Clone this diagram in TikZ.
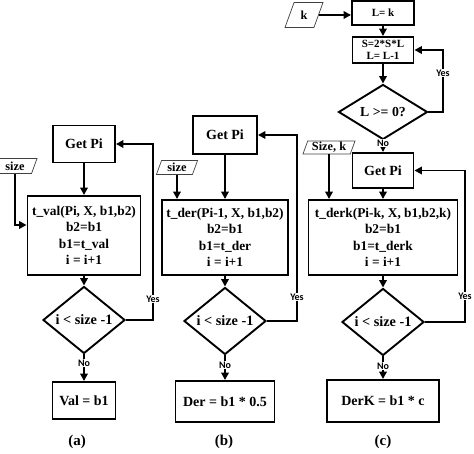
\documentclass[tikz,border=0pt]{standalone}
\usepackage{fontspec}
\setmainfont{Liberation Serif}
\newfontfamily\lblfont{Carlito}
\usetikzlibrary{shapes.geometric,arrows.meta}
\begin{document}
\begin{tikzpicture}[x=1pt,y=-1pt,
 box/.style={draw,line width=1.9pt,inner sep=0pt,align=center,font=\fontsize{14}{16}\selectfont\bfseries},
 mainbox/.style={box,font=\fontsize{13.4}{16.3}\selectfont\bfseries},
 smallbox/.style={box,font=\fontsize{11}{12.5}\selectfont\bfseries},
 dec/.style={draw,diamond,line width=1.9pt,inner sep=0pt,font=\fontsize{14.3}{16}\selectfont\bfseries},
 inp/.style={draw=black!75,trapezium,trapezium left angle=70,trapezium right angle=110,line width=0.7pt,inner sep=0pt,font=\fontsize{12.3}{13}\selectfont\bfseries},
 arr/.style={line width=1.9pt,-{Triangle[length=7.5pt,width=7.5pt]}},
 lbl/.style={fill=white,inner sep=1pt,font=\lblfont\bfseries\fontsize{10}{11}\selectfont},
 captxt/.style={font=\fontsize{15}{16}\selectfont\bfseries}]
\useasboundingbox (0,0) rectangle (474,454);

% ---------- (a)
\node[box,minimum width=62pt,minimum height=37pt] (getA) at (84,144) {Get Pi};
\node[inp,minimum width=32pt,minimum height=15pt] (sizeA) at (15,166) {size};
\node[mainbox,minimum width=113pt,minimum height=79pt] (mainA) at (84,235.5) {t\_val(Pi, X, b1,b2)\\b2=b1\\b1=t\_val\\i = i+1};
\node[dec,minimum width=82pt,minimum height=50pt] (decA) at (84,320) {i < size -1};
\node[box,minimum width=63pt,minimum height=37pt] (resA) at (84,400.5) {Val = b1};
\node[captxt] (capA) at (77,442) {(a)};
\coordinate (loopA) at (153,0);

% ---------- (b)
\node[box,minimum width=64pt,minimum height=38pt] (getB) at (225,135) {Get Pi};
\node[inp,minimum width=30pt,minimum height=14pt] (sizeB) at (177,167.5) {size};
\node[mainbox,minimum width=126pt,minimum height=75pt] (mainB) at (225,237.5) {t\_der(Pi-1, X, b1,b2)\\b2=b1\\b1=t\_der\\i = i+1};
\node[dec,minimum width=82pt,minimum height=50pt] (decB) at (225,321) {i < size -1};
\node[box,minimum width=99pt,minimum height=41pt] (resB) at (225,401.5) {Der = b1 * 0.5};
\node[captxt] (capB) at (224,442) {(b)};
\coordinate (loopB) at (297,0);

% ---------- (c)
\node[inp,minimum width=38pt,minimum height=14pt] (kin) at (304,15) {k};
\node[smallbox,minimum width=62pt,minimum height=24pt] (LK) at (383,13) {L= k};
\node[smallbox,minimum width=61pt,minimum height=26pt] (SB) at (383,50) {S=2*S*L\\L= L-1};
\node[dec,minimum width=89pt,minimum height=38pt,font=\fontsize{13.8}{16}\selectfont\bfseries] (decL) at (383,112) {L >= 0?};
\node[inp,minimum width=45pt,minimum height=13pt] (sizeK) at (329,147.5) {Size, k};
\node[box,minimum width=61pt,minimum height=35pt] (getC) at (383,170.5) {Get Pi};
\node[mainbox,minimum width=149pt,minimum height=75pt] (mainC) at (383,237.5) {t\_derk(Pi-k, X, b1,b2,k)\\b2=b1\\b1=t\_derk\\i = i+1};
\node[dec,minimum width=82pt,minimum height=50pt] (decC) at (383,322) {i < size -1};
\node[box,minimum width=112pt,minimum height=42pt] (resC) at (383,401) {DerK = b1 * c};
\node[captxt] (capC) at (383,442) {(c)};
\coordinate (loopC) at (465,0);
\coordinate (loopL) at (443,0);

% ---------- connectors (a)
\draw[arr] (getA) -- (mainA);
\draw[arr] (sizeA.south) |- ([yshift=10.5pt]mainA.west);
\draw[arr] (mainA) -- (decA);
\draw[arr] (decA) -- (resA);
\draw[arr] (decA.east) -- (decA.east -| loopA) -- (loopA |- getA.east) -- (getA.east);
% ---------- connectors (b)
\draw[arr] (getB) -- (mainB);
\draw[arr] (sizeB.south) -- (sizeB.south |- mainB.north);
\draw[arr] (mainB) -- (decB);
\draw[arr] (decB) -- (resB);
\draw[arr] (decB.east) -- (decB.east -| loopB) -- (loopB |- getB.east) -- (getB.east);
% ---------- connectors (c)
\draw[arr] (kin.east) -- (kin.east -| LK.west);
\draw[arr] (LK) -- (SB);
\draw[arr] (SB) -- (decL);
\draw[arr] (decL.east) -- (decL.east -| loopL) -- (loopL |- SB.east) -- (SB.east);
\draw[arr] (decL) -- (getC);
\draw[arr] (sizeK.south) -- (sizeK.south |- mainC.north);
\draw[arr] (getC) -- (mainC);
\draw[arr] (mainC) -- (decC);
\draw[arr] (decC) -- (resC);
\draw[arr] (decC.east) -- (decC.east -| loopC) -- (loopC |- getC.east) -- (getC.east);

% ---------- labels
\node[lbl] (yesA) at (153,299) {Yes};
\node[lbl] (noA) at (84,363) {No};
\node[lbl] (yesB) at (297,297) {Yes};
\node[lbl] (noB) at (225,365) {No};
\node[lbl] (yesL) at (443,73) {Yes};
\node[lbl] (noL) at (383,143) {No};
\node[lbl] (yesC) at (465,296) {Yes};
\node[lbl] (noC) at (383,366) {No};
\end{tikzpicture}
\end{document}
